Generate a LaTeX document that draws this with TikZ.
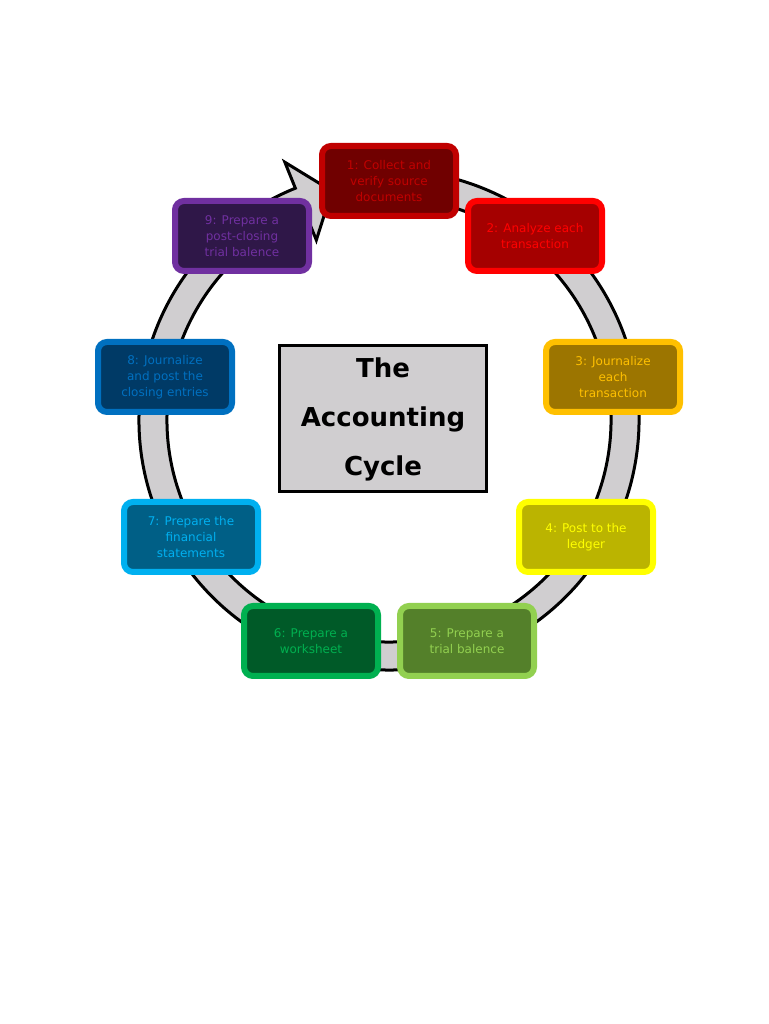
\documentclass[tikz,border=0pt]{standalone}
\usepackage{fontspec}
\setmainfont{DejaVu Sans}
\begin{document}
\begin{tikzpicture}[x=1pt,y=1pt,
 stage/.style={draw=#1, line width=6pt, rounded corners=9pt, minimum width=134pt, minimum height=70pt, align=center, font=\fontsize{12}{16}\selectfont, text=#1, inner sep=0pt},
 ringline/.style={draw=black, line width=3pt, fill={rgb,255:red,208;green,206;blue,208}, line join=miter}]
\useasboundingbox (0,0) rectangle (768,1024);
\definecolor{c1}{RGB}{192,0,0}\definecolor{f1}{RGB}{112,0,0}
\definecolor{c2}{RGB}{255,0,0}\definecolor{f2}{RGB}{165,0,0}
\definecolor{c3}{RGB}{255,192,0}\definecolor{f3}{RGB}{156,117,0}
\definecolor{c4}{RGB}{255,255,0}\definecolor{f4}{RGB}{187,180,0}
\definecolor{c5}{RGB}{146,208,80}\definecolor{f5}{RGB}{84,128,42}
\definecolor{c6}{RGB}{0,176,80}\definecolor{f6}{RGB}{0,90,40}
\definecolor{c7}{RGB}{0,176,240}\definecolor{f7}{RGB}{0,95,134}
\definecolor{c8}{RGB}{0,112,192}\definecolor{f8}{RGB}{0,58,102}
\definecolor{c9}{RGB}{112,48,160}\definecolor{f9}{RGB}{47,23,72}
\coordinate (c) at (389,604);
\draw[ringline] ([shift={(80:250)}]c) arc[start angle=80, end angle=-248, radius=250]
  -- ([shift={(112:278)}]c) -- ([shift={(104:236)}]c) -- ([shift={(112:194)}]c)
  -- ([shift={(112:222)}]c) arc[start angle=-248, end angle=80, radius=222] -- cycle;
\node[draw=black, line width=3pt, fill={rgb,255:red,208;green,206;blue,208}, minimum width=207pt, minimum height=146pt, align=center, font=\bfseries\fontsize{26}{49}\selectfont] (title) at (383,605) {The\\Accounting\\Cycle};
\node[stage=c1, fill=f1] (n1) at (389,843) {1: Collect and\\verify source\\documents};
\node[stage=c2, fill=f2] (n2) at (535,788) {2: Analyze each\\transaction};
\node[stage=c3, fill=f3] (n3) at (613,647) {3: Journalize\\each\\transaction};
\node[stage=c4, fill=f4] (n4) at (586,487) {4: Post to the\\ledger};
\node[stage=c5, fill=f5] (n5) at (467,383) {5: Prepare a\\trial balence};
\node[stage=c6, fill=f6] (n6) at (311,383) {6: Prepare a\\worksheet};
\node[stage=c7, fill=f7] (n7) at (191,487) {7: Prepare the\\financial\\statements};
\node[stage=c8, fill=f8] (n8) at (165,647) {8: Journalize\\and post the\\closing entries};
\node[stage=c9, fill=f9] (n9) at (242,788) {9: Prepare a\\post-closing\\trial balence};
\end{tikzpicture}
\end{document}
